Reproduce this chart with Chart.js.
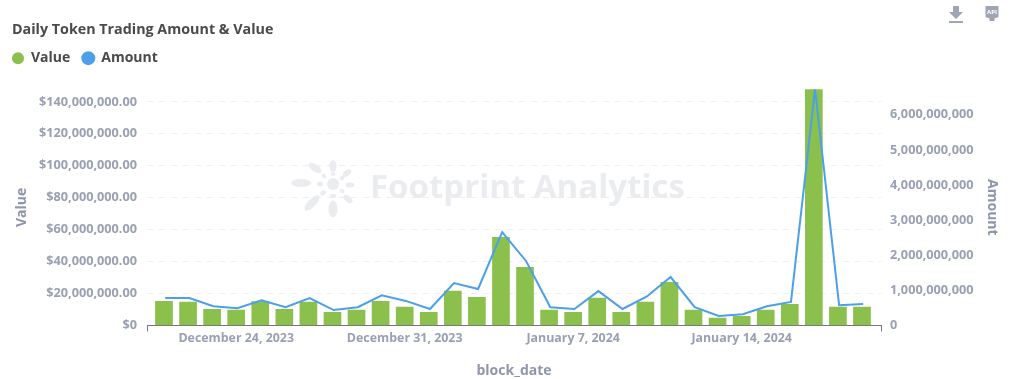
<!DOCTYPE html>
<html>
<head>
<meta charset="utf-8">
<title>Daily Token Trading Amount & Value</title>
<script src="https://cdn.jsdelivr.net/npm/chart.js@4"></script>
<style>
  html, body { margin: 0; padding: 0; background: #fff; }
  #wrap { position: relative; width: 1012px; height: 379px; overflow: hidden; }
  canvas { display: block; }
  .icon { position: absolute; }
</style>
</head>
<body>
<div id="wrap">
  <canvas id="tokenChart" width="1012" height="379"></canvas>
  <svg class="icon" style="left:947px;top:4px" width="18" height="20" viewBox="0 0 18 20">
    <path d="M6 2h6v6h4l-7 7-7-7h4z" fill="#a0a5b6"/>
    <rect x="2" y="17" width="14" height="2" fill="#a0a5b6"/>
  </svg>
  <svg class="icon" style="left:984px;top:5px" width="16" height="18" viewBox="0 0 16 18">
    <path d="M1.500 1h13v11l-4 1.500v2.500h-5v-2.500l-4-1.500z" fill="#a0a5b6"/>
    <text x="8" y="9" text-anchor="middle" font-family="Open Sans" font-size="6" font-weight="700" fill="#fff">API</text>
  </svg>
</div>
<script>
const categories = [
    'December 21, 2023', 'December 22, 2023', 'December 23, 2023', 'December 24, 2023',
    'December 25, 2023', 'December 26, 2023', 'December 27, 2023', 'December 28, 2023',
    'December 29, 2023', 'December 30, 2023', 'December 31, 2023', 'January 1, 2024',
    'January 2, 2024', 'January 3, 2024', 'January 4, 2024', 'January 5, 2024',
    'January 6, 2024', 'January 7, 2024', 'January 8, 2024', 'January 9, 2024',
    'January 10, 2024', 'January 11, 2024', 'January 12, 2024', 'January 13, 2024',
    'January 14, 2024', 'January 15, 2024', 'January 16, 2024', 'January 17, 2024',
    'January 18, 2024', 'January 19, 2024'
];
const valueSeries = [
    15200000, 14600000, 10200000, 9600000, 15000000, 10200000, 14600000, 8300000,
    9600000, 15200000, 11500000, 8300000, 21500000, 17700000, 55200000, 36500000,
    9600000, 8300000, 17100000, 8300000, 14600000, 27100000, 9600000, 4600000,
    5800000, 9600000, 13300000, 148000000, 11500000, 11500000
];
const amountSeries = [
    780000000, 780000000, 550000000, 490000000, 720000000, 520000000, 780000000, 440000000,
    520000000, 860000000, 700000000, 470000000, 1210000000, 1040000000, 2660000000, 1830000000,
    520000000, 470000000, 980000000, 470000000, 820000000, 1380000000, 520000000, 270000000,
    320000000, 550000000, 670000000, 6730000000, 580000000, 610000000
];
const xTickLabels = ['December 24, 2023', 'December 31, 2023', 'January 7, 2024', 'January 14, 2024'];
const valueTicks = [0, 20000000, 40000000, 60000000, 80000000, 100000000, 120000000, 140000000];
const amountTicks = [0, 1000000000, 2000000000, 3000000000, 4000000000, 5000000000, 6000000000];

const GREEN = '#8bc04d';
const BLUE = '#4c9fe8';
const AXIS_TEXT = '#9aa0b4';
const AXIS_TITLE = '#8f95aa';
const FAMILY = '"Open Sans", sans-serif';

const xMin = -0.706;
const xMax = 29.79;
const lineShift = 0.05;   // the line sits a touch right of the bar centres in the original
const valueMax = 148000000;
const amountMax = 6730000000;

const tickFont = { family: FAMILY, size: 12.7, weight: '700' };
const titleFont = { family: FAMILY, size: 14, weight: '700' };

// watermark behind the bars
const watermark = {
    id: 'watermark',
    beforeDatasetsDraw(chart) {
        const ctx = chart.ctx;
        const petals = [
            [333, 166, 3.5, 6, 0], [347, 173, 5, 2.8, -0.7], [350, 185, 4.5, 2.5, 0],
            [348, 199, 5.5, 3, 0.7], [333, 209, 4.5, 8.5, 0], [312, 203, 10, 4, -0.8],
            [301, 183, 10, 4, 0], [315, 168, 7.5, 3.5, 0.6],
            [333, 174, 2.5, 2, 0], [342, 178, 2.5, 2, -0.6], [342, 191, 2.5, 2, 0.6],
            [333, 196, 3, 2.2, 0], [323, 193, 3, 2.2, -0.6], [320, 184, 3, 2.5, 0],
            [324, 176, 2.5, 2, 0.6], [333, 184, 6, 6, 0]
        ];
        ctx.save();
        ctx.fillStyle = '#eaecef';
        petals.forEach(p => {
            ctx.beginPath();
            ctx.ellipse(p[0], p[1], p[2], p[3], p[4], 0, Math.PI * 2);
            ctx.fill();
        });
        ctx.font = '700 33px "Open Sans", sans-serif';
        ctx.textBaseline = 'middle';
        ctx.textAlign = 'left';
        ctx.fillText('Footprint Analytics', 370, 189);
        ctx.restore();
    }
};

const legendGap = {
    id: 'legendGap',
    beforeInit(chart) {
        const fit = chart.legend.fit;
        chart.legend.fit = function () {
            fit.bind(chart.legend)();
            this.height += 14;
        };
    },
    afterLayout(chart) {
        // legend items start at left + padding, so pull the box back
        chart.legend.left = 0;
    }
};

new Chart(document.getElementById('tokenChart').getContext('2d'), {
    data: {
        datasets: [
            {
                type: 'bar',
                label: 'Value',
                data: valueSeries.map((v, i) => ({ x: i, y: v })),
                backgroundColor: GREEN,
                borderWidth: 0,
                barThickness: 17,
                grouped: false,
                xAxisID: 'x',
                yAxisID: 'y',
                order: 2
            },
            {
                type: 'line',
                label: 'Amount',
                data: amountSeries.map((v, i) => ({ x: i, y: v })),
                borderColor: BLUE,
                backgroundColor: BLUE,
                borderWidth: 2,
                pointRadius: 0,
                tension: 0,
                fill: false,
                xAxisID: 'xLine',
                yAxisID: 'y1',
                order: 1
            }
        ]
    },
    options: {
        responsive: false,
        animation: false,
        layout: { padding: { left: 12, right: 0, top: 0, bottom: 0 } },
        plugins: {
            tooltip: { enabled: false },
            title: {
                display: true,
                text: 'Daily Token Trading Amount & Value',
                align: 'start',
                color: '#4a4a4a',
                font: { family: FAMILY, size: 14.3, weight: '700' },
                padding: { top: 21, bottom: 1 }
            },
            legend: {
                display: true,
                position: 'top',
                align: 'start',
                labels: {
                    usePointStyle: true,
                    pointStyle: 'circle',
                    boxWidth: 12,
                    boxHeight: 8.5,
                    padding: 12,
                    color: '#4a4a4a',
                    font: { family: FAMILY, size: 14, weight: '700' },
                    sort: (a, b) => a.datasetIndex - b.datasetIndex
                }
            }
        },
        scales: {
            x: {
                type: 'linear',
                position: 'bottom',
                offset: false,
                min: xMin,
                max: xMax,
                afterBuildTicks(axis) {
                    const inner = xTickLabels.map(l => ({ value: categories.indexOf(l) }));
                    axis.ticks = [{ value: xMin }, ...inner, { value: xMax }];
                },
                afterFit(axis) { axis.height = 379 - 325.5; },
                grid: {
                    offset: false,
                    drawOnChartArea: false,
                    drawTicks: true,
                    tickLength: 6,
                    tickColor: c => (c.tick && (c.tick.value === xMin || c.tick.value === xMax)) ? '#74777f' : 'transparent'
                },
                border: { display: true, color: '#74777f', width: 1 },
                ticks: {
                    autoSkip: false,
                    maxRotation: 0,
                    padding: 0,
                    color: AXIS_TEXT,
                    font: { family: FAMILY, size: 12.4, weight: '700' },
                    callback: v => categories[v] || ''
                },
                title: {
                    display: true,
                    text: 'block_date',
                    color: AXIS_TITLE,
                    font: titleFont,
                    padding: { top: 4.5, bottom: 0 }
                }
            },
            xLine: {
                type: 'linear',
                display: false,
                offset: false,
                min: xMin - lineShift,
                max: xMax - lineShift
            },
            y: {
                type: 'linear',
                position: 'left',
                min: 0,
                max: valueMax,
                afterBuildTicks(axis) { axis.ticks = valueTicks.map(v => ({ value: v })); },
                afterFit(axis) { axis.width = 135; },
                grid: {
                    color: '#eeeeee',
                    drawTicks: false
                },
                border: { display: false, dash: [6, 6] },
                ticks: {
                    padding: 10,
                    color: AXIS_TEXT,
                    font: tickFont,
                    callback: v => v === 0 ? '$0' : '$' + v.toLocaleString('en-US', { minimumFractionDigits: 2, maximumFractionDigits: 2 })
                },
                title: {
                    display: true,
                    text: 'Value',
                    color: AXIS_TITLE,
                    font: titleFont,
                    padding: { top: 1.5, bottom: 0 }
                }
            },
            y1: {
                type: 'linear',
                position: 'right',
                min: 0,
                max: amountMax,
                afterBuildTicks(axis) { axis.ticks = amountTicks.map(v => ({ value: v })); },
                afterFit(axis) { axis.width = 131; },
                grid: { display: false, drawTicks: false },
                border: { display: false },
                ticks: {
                    padding: 9,
                    color: AXIS_TEXT,
                    font: tickFont,
                    callback: v => v.toLocaleString('en-US')
                },
                title: {
                    display: true,
                    text: 'Amount',
                    color: AXIS_TITLE,
                    font: titleFont,
                    padding: { top: 11.5, bottom: 0 }
                }
            }
        }
    },
    plugins: [watermark, legendGap]
});
</script>
</body>
</html>
